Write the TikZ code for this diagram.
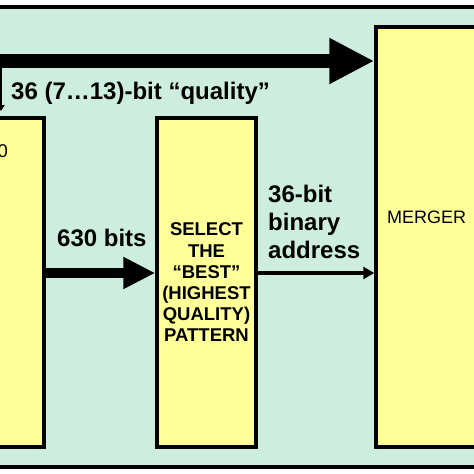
\documentclass[tikz,border=0pt]{standalone}
\usepackage{fontspec}
\setmainfont{Liberation Sans}
\usetikzlibrary{arrows.meta}
\definecolor{bgmint}{HTML}{CDEEDE}
\definecolor{boxyellow}{HTML}{FFFF99}
\begin{document}
\begin{tikzpicture}[x=1pt,y=-1pt,
  blockbox/.style={draw=black, fill=boxyellow, line width=3.5pt, inner sep=0pt},
  lbl/.style={inner sep=0pt, font=\fontsize{24}{28}\selectfont\bfseries},
]
\fill[white] (0,0) rectangle (474,474);
\useasboundingbox (0,0) rectangle (474,474);
\draw[line width=4pt, fill=bgmint] (-10,7) rectangle (484,467);

\node[blockbox, minimum width=60pt, minimum height=329pt] (left) at (14,282.5) {};
\node[blockbox, minimum width=99pt, minimum height=329pt, align=center,
      font=\fontsize{18.5}{21.2}\selectfont\bfseries] (select) at (206.5,282.5)
      {SELECT\\THE\\“BEST”\\(HIGHEST\\QUALITY)\\PATTERN};
\node[blockbox, minimum width=130pt, minimum height=420pt] (merger) at (441,237) {};
\node[anchor=base west, inner sep=0pt, font=\fontsize{18}{21}\selectfont] (mergerlabel) at (387,223) {MERGER};

\node[anchor=base east, inner sep=0pt, font=\fontsize{18.5}{22}\selectfont] (leftlabel) at (8,157) {0};

\coordinate (topstart) at (-10,61);
\draw[line width=14pt, -{Triangle[length=45pt,width=43pt]}] (topstart) -- (topstart -| merger.west);

\coordinate (qstart) at (1,68);
\coordinate (qend) at (1,111);
\draw[line width=1.5pt, -{Triangle[length=6pt,width=7pt]}] (qstart) -- (qend);

\node[lbl, anchor=base west] (qlabel) at (11,99) {36 (7…13)-bit “quality”};

\coordinate (arrowrow) at (0,273);
\draw[line width=10pt, -{Triangle[length=32pt,width=30pt]}] (left.east |- arrowrow) -- (select.west |- arrowrow);
\node[lbl, anchor=base west] (bitslabel) at (57,246) {630 bits};

\draw[line width=3.5pt, -{Triangle[length=11pt,width=12pt]}] (select.east |- arrowrow) -- (merger.west |- arrowrow);
\node[lbl, anchor=base west, align=left] (addrlabel) at (268,258) {36-bit\\binary\\address};
\end{tikzpicture}
\end{document}
